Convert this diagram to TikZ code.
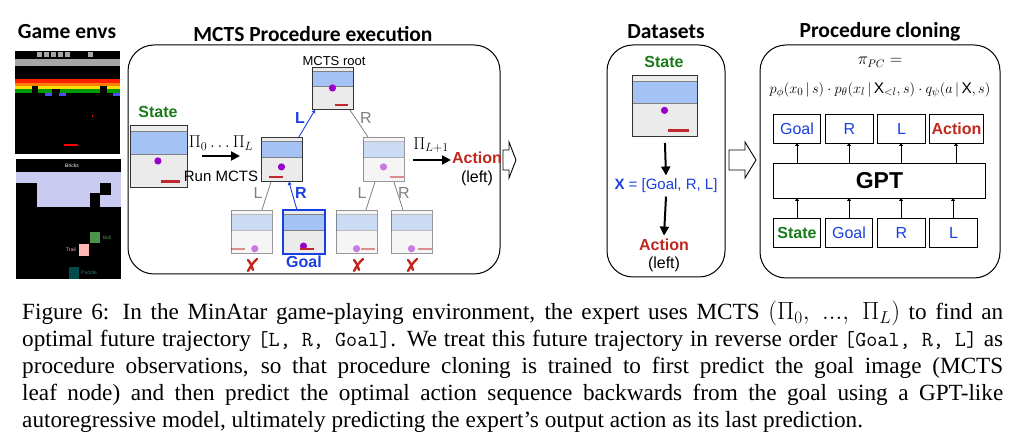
\documentclass[tikz,border=0pt]{standalone}
\usepackage{fontspec}
\setmainfont{Liberation Serif}
\newfontfamily\arialf{Liberation Sans}
\newfontfamily\calf{Carlito}
\usetikzlibrary{arrows.meta}
\definecolor{gl}{HTML}{EBEBEB}
\definecolor{bl}{HTML}{A4C2F4}
\definecolor{pu}{HTML}{9900CC}
\definecolor{pd}{HTML}{C0282D}
\definecolor{gg}{HTML}{1A7A1A}
\definecolor{bt}{HTML}{1A3FE0}
\definecolor{ar}{HTML}{C0281E}
\definecolor{lav}{HTML}{C9CCF0}
\newcommand\mytt[1]{{\ttfamily\fontsize{21.5}{27}\selectfont #1}}
% #1 name #2 x0 #3 y0 #4 x1 #5 y1 #6 opacity #7 ballfx #8 ballfy #9 paddle start fx
\newcommand\gimg[9]{%
 \begin{scope}[opacity=#6]
 \fill[gl] (#2,#3) rectangle (#4,#5);
 \fill[bl] (#2,{#3+0.11*(#5-#3)}) rectangle (#4,{#3+0.47*(#5-#3)});
 \draw[gray,line width=0.8pt] (#2,{#3+0.11*(#5-#3)}) -- (#4,{#3+0.11*(#5-#3)}) (#2,{#3+0.47*(#5-#3)}) -- (#4,{#3+0.47*(#5-#3)});
 \fill[pu] ({#2+#7*(#4-#2)},{#3+#8*(#5-#3)}) circle (3.6pt);
 \draw[pd,line width=2.2pt] ({#2+#9*(#4-#2)},{#3+0.91*(#5-#3)}) -- ({#2+(#9+0.33)*(#4-#2)},{#3+0.91*(#5-#3)});
 \end{scope}
 \node[draw=black!80,line width=0.9pt,opacity=#6,inner sep=0,minimum width={(#4-#2)*1pt},minimum height={(#5-#3)*1pt},anchor=north west] (#1) at (#2,#3) {};}
\tikzset{
 ttl/.style={font=\calf\bfseries\fontsize{21.5}{24}\selectfont},
 panel/.style={draw,line width=1pt,rounded corners=26pt},
 lab/.style={font=\arialf\fontsize{16}{18}\selectfont},
 blab/.style={font=\arialf\bfseries\fontsize{16}{18}\selectfont},
 tok/.style={draw,line width=0.9pt,minimum height=29pt,inner sep=0,font=\arialf\fontsize{16}{18}\selectfont,text=bt},
 cross/.style={ar,line width=2.4pt,line cap=round},
 hol/.style={draw,line width=0.9pt,fill=white},
 ar1/.style={-{Triangle[length=3pt,width=4pt]},line width=0.9pt},
 ar2/.style={-{Triangle[length=9pt,width=9pt]},line width=2pt},
}
\begin{document}
\begin{tikzpicture}[x=1pt,y=-1pt]
\useasboundingbox (0,0) rectangle (1026,443);
% Game envs
\node[ttl] (tge) at (67,32) {Game envs};
\fill[black] (15,51) rectangle (120,154);
\fill[gray!70] (15,59) rectangle (120,66);
\foreach \xx in {37,44,51,58,65,88}{\fill[gray!70] (\xx,52.5) rectangle (\xx+5,57);}
\fill[red!75!orange] (15,79) rectangle (120,83);
\fill[orange] (15,83) rectangle (120,86);
\fill[yellow!80!orange] (15,86) rectangle (120,89);
\fill[green!60!black] (15,89) rectangle (120,93);
\fill[black] (32,86) rectangle (38,93);\fill[black] (52,89) rectangle (60,93);\fill[black] (100,86) rectangle (107,93);
\fill[blue!70] (45,93) rectangle (52,96);\fill[blue!70] (59,93) rectangle (66,96);\fill[blue!70] (113,93) rectangle (120,96);
\fill[red] (91.5,115.5) rectangle (93,117);
\draw[red,line width=1.2pt] (64,145) -- (78,145);
\fill[black] (16,159) rectangle (121,279);
\fill[lav] (16,172) rectangle (121,207);
\fill[black] (16,183) rectangle (37,207);
\fill[black] (90,193) rectangle (100,207);
\fill[black] (100,183) rectangle (111,195);
\node[white,font=\arialf\fontsize{5}{6}\selectfont] (tbr) at (72,166) {Bricks};
\fill[green!40!black!70] (90,232) rectangle (100,243);
\node[green!40!black!70,font=\arialf\fontsize{5}{6}\selectfont] (tba) at (107,238) {Ball};
\fill[pink!80!red!70] (79,244) rectangle (89,256);
\node[pink!80!red!70,font=\arialf\fontsize{5}{6}\selectfont] (ttr) at (71,250) {Trail};
\fill[teal!60!black] (69,267) rectangle (79,279);
\node[teal!60!black!80,font=\arialf\fontsize{5}{6}\selectfont] (tpa) at (89,273) {Paddle};
% MCTS panel
\node[ttl] (tm) at (313,34) {MCTS Procedure execution};
\draw[panel] (128,45) rectangle (500,274);
\node[blab,text=gg] (st1) at (158,112) {State};
\gimg{s1}{130}{125}{187}{187}{1}{0.49}{0.58}{0.55}
\node (pi0) at (221,143) {\fontsize{18}{20}\selectfont$\Pi_0\ldots\Pi_L$};
\coordinate (a1s) at (202,156); \coordinate (a1e) at (240,156);
\draw[ar2] (a1s) -- (a1e);
\node[lab,font=\arialf\fontsize{15}{17}\selectfont] (rm) at (221,176) {Run MCTS};
\node[lab,font=\arialf\fontsize{13}{15}\selectfont] (rootl) at (334,61) {MCTS root};
\gimg{root}{312}{67}{353}{109}{1}{0.5}{0.5}{0.55}
\gimg{lc}{261}{137}{302}{181}{1}{0.5}{0.68}{0.2}
\gimg{rc}{363}{137}{404}{181}{0.5}{0.5}{0.68}{0.67}
\gimg{l1}{231}{210}{272}{253}{0.5}{0.58}{0.9}{0.0}
\gimg{goal}{283}{210}{324}{253}{1}{0.5}{0.84}{0.42}
\gimg{l3}{336}{210}{377}{253}{0.5}{0.5}{0.9}{0.62}
\gimg{l4}{391}{210}{432}{253}{0.5}{0.5}{0.9}{0.67}
\draw[bt,line width=2pt] (goal.north west) rectangle (goal.south east);
\draw[bt,ar1] (lc.north east) ++(-4,0) -- ([xshift=3pt]root.south west);
\node[blab,text=bt] (eL) at (300,118) {L};
\draw[gray,line width=0.8pt] ([xshift=-4pt]root.south east) -- ([xshift=5pt]rc.north west);
\node[lab,text=gray] (eR) at (366,118) {R};
\draw[gray,line width=0.8pt] ([xshift=10pt]lc.south west) -- ([xshift=-11pt]l1.north east);
\node[lab,text=gray] (eL2) at (258,193) {L};
\draw[bt,ar1] ([xshift=14pt]goal.north west) -- ([xshift=-14pt]lc.south east);
\node[blab,text=bt] (eR2) at (301,193) {R};
\draw[gray,line width=0.8pt] ([xshift=12pt]rc.south west) -- ([xshift=-12pt]l3.north east);
\node[lab,text=gray] (eL3) at (362,193) {L};
\draw[gray,line width=0.8pt] ([xshift=-11pt]rc.south east) -- ([xshift=12pt]l4.north west);
\node[lab,text=gray] (eR3) at (404,193) {R};
\node[blab,text=bt] (gl1) at (304,262) {Goal};
\foreach \cx in {252,358,412}{
 \draw[cross] (\cx-4,260) .. controls (\cx-1,264) .. (\cx+1,270);
 \draw[cross] (\cx+5,259) .. controls (\cx,264) .. (\cx-4,271);}
\node (pil) at (431,145) {\fontsize{18}{20}\selectfont$\Pi_{L+1}$};
\coordinate (a2s) at (413,160); \coordinate (a2e) at (451,160);
\draw[ar2] (a2s) -- (a2e);
\node[blab,text=ar] (act1) at (477,158) {Action};
\node[lab] (lf1) at (477,178) {(left)};
\draw[hol] (503,150)--(509,150)--(509,142)--(516,160)--(509,178)--(509,170)--(503,170)--cycle;
% Datasets
\node[ttl] (td) at (666,32) {Datasets};
\draw[panel] (607,45) rectangle (725,277);
\node[blab,text=gg] (st2) at (664,62) {State};
\gimg{s2}{632}{75}{697}{136}{1}{0.5}{0.58}{0.55}
\node[lab,text=bt,font=\arialf\fontsize{15}{17}\selectfont] (xx) at (666,186) {\textbf{X} = [Goal, R, L]};
\draw[ar2] (s2.south) ++(0,6) -- (xx.north);
\node[blab,text=ar] (act2) at (664,245) {Action};
\draw[ar2] (xx.south) -- (act2.north);
\node[lab] (lf2) at (664,264) {(left)};
\draw[hol] (729,150)--(745,150)--(745,142)--(756,160)--(745,178)--(745,170)--(729,170)--cycle;
% Procedure cloning
\node[ttl] (tp) at (880,32) {Procedure cloning};
\draw[panel] (760,45) rectangle (1000,278);
\node (pipc) at (880,62) {\fontsize{16}{18}\selectfont$\pi_{PC}=$};
\node (form) at (880,90) {\fontsize{15.5}{18}\selectfont$p_\phi(x_0\,|\,s)\cdot p_\theta(x_l\,|\,\mbox{\arialf X}_{<l},s)\cdot q_\psi(a\,|\,\mbox{\arialf X},s)$};
\node[tok,minimum width=47pt,anchor=north west] (o1) at (773,114) {Goal};
\node[tok,minimum width=48pt,anchor=north west] (o2) at (825,114) {R};
\node[tok,minimum width=48pt,anchor=north west] (o3) at (877,114) {L};
\node[tok,minimum width=54pt,anchor=north west,text=ar,font=\arialf\bfseries\fontsize{16}{18}\selectfont] (o4) at (929,114) {Action};
\node[tok,minimum width=212pt,minimum height=35pt,anchor=north west,text=black,font=\arialf\bfseries\fontsize{23}{25}\selectfont] (gpt) at (773,163) {GPT};
\node[tok,minimum width=47pt,anchor=north west,text=gg,font=\arialf\bfseries\fontsize{16}{18}\selectfont] (i1) at (773,218) {State};
\node[tok,minimum width=47pt,anchor=north west] (i2) at (825,218) {Goal};
\node[tok,minimum width=48pt,anchor=north west] (i3) at (877,218) {R};
\node[tok,minimum width=48pt,anchor=north west] (i4) at (929,218) {L};
\foreach \i/\xx in {1/797,2/849,3/901,4/956}{
 \draw[ar1] (\xx,163) -- (\xx,143);}
\foreach \i/\xx in {1/797,2/849,3/901,4/953}{
 \draw[ar1] (\xx,218) -- (\xx,198);}
% caption
\node[anchor=north west,inner sep=0,text width=981pt,align=justify,font=\fontsize{23.2}{27}\selectfont] (cap) at (22,301) {%
Figure 6: In the MinAtar game-playing environment, the expert uses MCTS $(\Pi_0,\ ...,\ \Pi_L)$ to find an\linebreak
optimal future trajectory \mytt{[L, R, Goal]}. We treat this future trajectory in reverse order \mytt{[Goal, R, L]} as\linebreak
procedure observations, so that procedure cloning is trained to first predict the goal image (MCTS\linebreak
leaf node) and then predict the optimal action sequence backwards from the goal using a GPT-like\linebreak
autoregressive model, ultimately predicting the expert's output action as its last prediction.};
\end{tikzpicture}
\end{document}
